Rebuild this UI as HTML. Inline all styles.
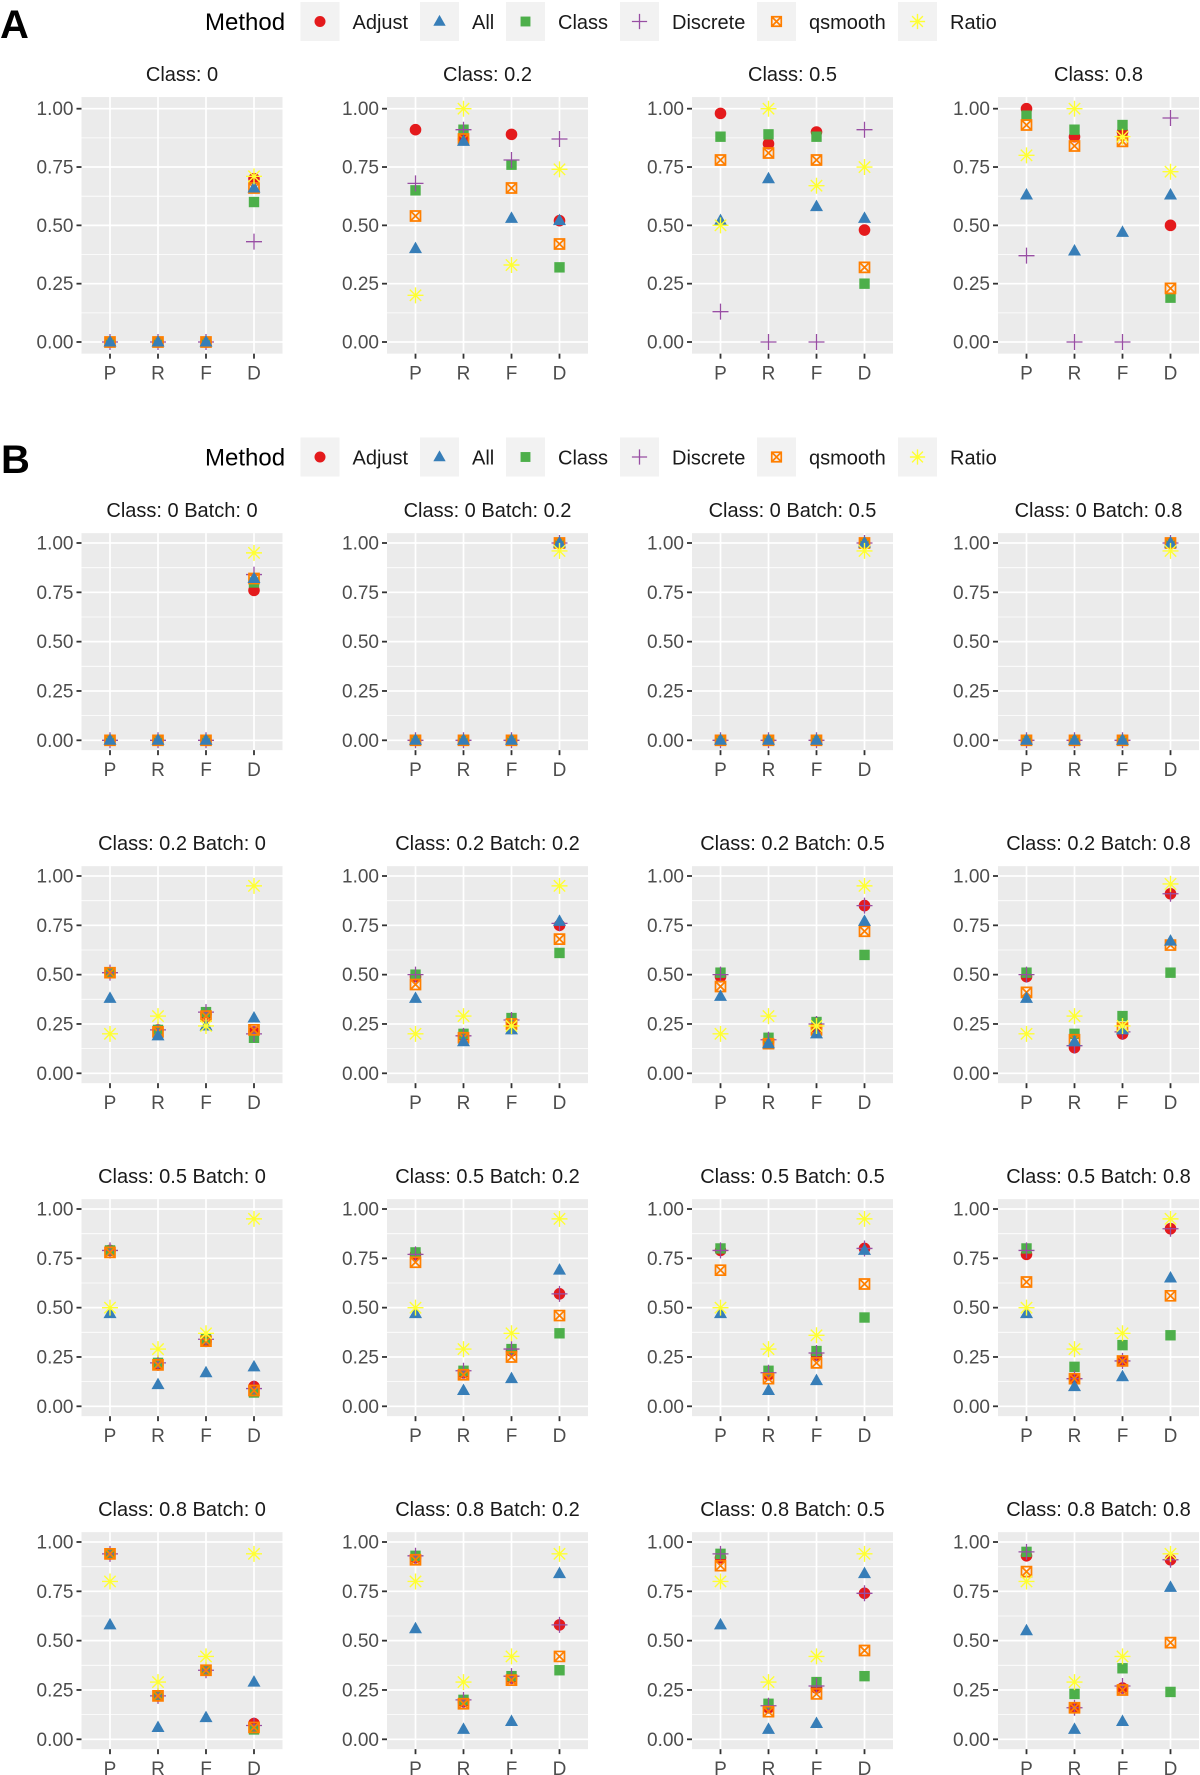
<!DOCTYPE html>
<html><head><meta charset="utf-8">
<style>
html,body{margin:0;padding:0;background:#fff;}
svg{display:block;}
text{font-family:"Liberation Sans",Arial,sans-serif;}
</style></head>
<body>
<svg id="fig" width="1200" height="1775" viewBox="0 0 1200 1775" xmlns="http://www.w3.org/2000/svg"></svg>
<script>
const methods = ["Adjust","All","Class","Discrete","qsmooth","Ratio"];
const cats = ["P","R","F","D"];
const yTicks = [0,0.25,0.5,0.75,1];
const yTickLabels = ["0.00","0.25","0.50","0.75","1.00"];
const titlesA = ["Class: 0","Class: 0.2","Class: 0.5","Class: 0.8"];
// rows: Adjust, All, Class, Discrete, qsmooth, Ratio ; cols P,R,F,D
const a1 = [[0,0,0,0.70],[0,0,0,0.66],[0,0,0,0.60],[0,0,0,0.43],[0,0,0,0.66],[null,null,null,0.71]];
const a2 = [[0.91,0.87,0.89,0.52],[0.40,0.86,0.53,0.52],[0.65,0.91,0.76,0.32],[0.68,0.91,0.78,0.87],[0.54,0.87,0.66,0.42],[0.20,1.00,0.33,0.74]];
const a3 = [[0.98,0.85,0.90,0.48],[0.52,0.70,0.58,0.53],[0.88,0.89,0.88,0.25],[0.13,0,0,0.91],[0.78,0.81,0.78,0.32],[0.50,1.00,0.67,0.75]];
const a4 = [[1.00,0.88,0.90,0.50],[0.63,0.39,0.47,0.63],[0.97,0.91,0.93,0.19],[0.37,0,0,0.96],[0.93,0.84,0.86,0.23],[0.80,1.00,0.88,0.73]];
const b00 = [[0,0,0,0.76],[0,0,0,0.82],[0,0,0,0.80],[0,0,0,0.84],[0,0,0,0.82],[null,null,null,0.95]];
const b02 = [[0,0,0,1.0],[0,0,0,1.0],[0,0,0,1.0],[0,0,0,1.0],[0,0,0,1.0],[null,null,null,0.96]];
const b05 = [[0,0,0,1.0],[0,0,0,1.0],[0,0,0,1.0],[0,0,0,1.0],[0,0,0,1.0],[null,null,null,0.96]];
const b08 = [[0,0,0,1.0],[0,0,0,1.0],[0,0,0,1.0],[0,0,0,1.0],[0,0,0,1.0],[null,null,null,0.96]];
const b20 = [[0.51,0.22,0.30,0.21],[0.38,0.19,0.24,0.28],[0.51,0.22,0.31,0.18],[0.51,0.22,0.31,0.20],[0.51,0.21,0.29,0.22],[0.20,0.29,0.24,0.95]];
const b22 = [[0.49,0.19,0.26,0.75],[0.38,0.16,0.22,0.77],[0.50,0.20,0.28,0.61],[0.50,0.19,0.27,0.76],[0.45,0.18,0.25,0.68],[0.20,0.29,0.24,0.95]];
const b25 = [[0.49,0.16,0.23,0.85],[0.39,0.15,0.20,0.77],[0.51,0.18,0.26,0.60],[0.50,0.17,0.25,0.85],[0.44,0.15,0.22,0.72],[0.20,0.29,0.24,0.95]];
const b28 = [[0.49,0.13,0.20,0.91],[0.38,0.16,0.22,0.67],[0.51,0.20,0.29,0.51],[0.50,0.14,0.21,0.91],[0.41,0.17,0.23,0.65],[0.20,0.29,0.24,0.96]];
const b50 = [[0.79,0.21,0.33,0.10],[0.47,0.11,0.17,0.20],[0.79,0.22,0.34,0.07],[0.79,0.22,0.34,0.09],[0.78,0.21,0.33,0.08],[0.50,0.29,0.37,0.95]];
const b52 = [[0.77,0.17,0.28,0.57],[0.47,0.08,0.14,0.69],[0.78,0.18,0.29,0.37],[0.77,0.18,0.29,0.57],[0.73,0.16,0.25,0.46],[0.50,0.29,0.37,0.95]];
const b55 = [[0.79,0.16,0.26,0.80],[0.47,0.08,0.13,0.79],[0.80,0.18,0.28,0.45],[0.79,0.17,0.27,0.80],[0.69,0.14,0.22,0.62],[0.50,0.29,0.36,0.95]];
const b58 = [[0.77,0.14,0.23,0.90],[0.47,0.10,0.15,0.65],[0.80,0.20,0.31,0.36],[0.79,0.14,0.23,0.90],[0.63,0.14,0.23,0.56],[0.50,0.29,0.37,0.95]];
const b80 = [[0.94,0.22,0.35,0.08],[0.58,0.06,0.11,0.29],[0.94,0.22,0.35,0.05],[0.94,0.22,0.35,0.07],[0.94,0.22,0.35,0.06],[0.80,0.29,0.42,0.94]];
const b82 = [[0.92,0.19,0.31,0.58],[0.56,0.05,0.09,0.84],[0.93,0.20,0.32,0.35],[0.93,0.20,0.32,0.58],[0.91,0.18,0.30,0.42],[0.80,0.29,0.42,0.94]];
const b85 = [[0.92,0.16,0.26,0.74],[0.58,0.05,0.08,0.84],[0.94,0.18,0.29,0.32],[0.94,0.17,0.27,0.74],[0.88,0.14,0.23,0.45],[0.80,0.29,0.42,0.94]];
const b88 = [[0.93,0.16,0.26,0.91],[0.55,0.05,0.09,0.77],[0.95,0.23,0.36,0.24],[0.95,0.16,0.27,0.91],[0.85,0.16,0.25,0.49],[0.80,0.29,0.42,0.94]];
const classLevels = ["0","0.2","0.5","0.8"];
const batchLevels = ["0","0.2","0.5","0.8"];
const drawOrder = [0,2,3,4,1,5];

const NS="http://www.w3.org/2000/svg";
const svg=document.getElementById('fig');
function mk(tag,attrs,parent){const e=document.createElementNS(NS,tag);for(const k in attrs)e.setAttribute(k,attrs[k]);(parent||svg).appendChild(e);return e;}
const colors=["#e41a1c","#377eb8","#4daf4a","#984ea3","#ff7f00","#ffff33"];
const panelX=[81.5,387,692,998];
const PW=201;

function marker(m,cx,cy,g,s){
  s=s||1;
  let e;
  if(m===0){e=mk('circle',{cx:cx,cy:cy,r:5.8*s,fill:colors[0]},g);}
  else if(m===1){e=mk('polygon',{points:`${cx},${cy-7*s} ${cx+6.5*s},${cy+4.5*s} ${cx-6.5*s},${cy+4.5*s}`,fill:colors[1]},g);}
  else if(m===2){e=mk('rect',{x:cx-5.2*s,y:cy-5.2*s,width:10.4*s,height:10.4*s,fill:colors[2]},g);}
  else if(m===3){e=mk('path',{d:`M${cx-8*s},${cy}H${cx+8*s}M${cx},${cy-8*s}V${cy+8*s}`,stroke:colors[3],'stroke-width':1.3,fill:'none'},g);}
  else if(m===4){const r=5*s;e=mk('path',{d:`M${cx-r},${cy-r}h${2*r}v${2*r}h${-2*r}zM${cx-r},${cy-r}L${cx+r},${cy+r}M${cx+r},${cy-r}L${cx-r},${cy+r}`,stroke:colors[4],'stroke-width':1.7,fill:'none'},g);}
  else {const r=8*s,d=5.7*s;e=mk('path',{d:`M${cx-r},${cy}H${cx+r}M${cx},${cy-r}V${cy+r}M${cx-d},${cy-d}L${cx+d},${cy+d}M${cx+d},${cy-d}L${cx-d},${cy+d}`,stroke:colors[5],'stroke-width':1.4,fill:'none'},g);}
  return e;
}

function panel(px,y1,y0,title,data,name){
  const g=mk('g',{});
  
  
  const unit=y0-y1;
  const ys=v=>y0-v*unit;
  const xs=i=>px+28.5+i*48;
  const top=ys(1.05),bot=ys(-0.05);
  const bg=mk('rect',{x:px,y:top,width:PW,height:bot-top,fill:'#ebebeb'},g);
  
  
  for(let i=0;i<4;i++){const v=0.125+i*0.25;mk('line',{x1:px,x2:px+PW,y1:ys(v),y2:ys(v),stroke:'#fff','stroke-width':0.8},g);}
  yTicks.forEach((v,i)=>{
    mk('line',{x1:px,x2:px+PW,y1:ys(v),y2:ys(v),stroke:'#fff','stroke-width':1.7},g);
    mk('line',{x1:px-5,x2:px,y1:ys(v),y2:ys(v),stroke:'#333','stroke-width':1.8},g);
    const t=mk('text',{x:px-8,y:ys(v)+6.5,'text-anchor':'end','font-size':19,fill:'#4d4d4d'},g);
    t.textContent=yTickLabels[i];
    
    
  });
  cats.forEach((c,i)=>{
    mk('line',{x1:xs(i),x2:xs(i),y1:top,y2:bot,stroke:'#fff','stroke-width':1.7},g);
    mk('line',{x1:xs(i),x2:xs(i),y1:bot,y2:bot+5,stroke:'#333','stroke-width':1.8},g);
    const t=mk('text',{x:xs(i),y:bot+26,'text-anchor':'middle','font-size':19,fill:'#4d4d4d'},g);
    t.textContent=c;
    
    
  });
  const tt=mk('text',{x:px+PW/2,y:top-16,'text-anchor':'middle','font-size':20,fill:'#1a1a1a'},g);
  tt.textContent=title;
  
  
  drawOrder.forEach(m=>{
    data[m].forEach((v,i)=>{
      if(v===null) return;
      const e=marker(m,xs(i),ys(v),g);
      
      
    });
  });
}

function legend(cy,name){
  const g=mk('g',{});
  
  
  const lt=mk('text',{x:205,y:cy+8.5,'font-size':24,fill:'#000'},g);
  lt.textContent='Method';
  
  
  const kx=[300.5,420,506,620,757,898];
  methods.forEach((m,i)=>{
    const k=mk('rect',{x:kx[i],y:cy-19.5,width:39,height:39,fill:'#f2f2f2'},g);
    
    
    marker(i,kx[i]+19.5,cy,g,0.95);
    const t=mk('text',{x:kx[i]+52,y:cy+7.5,'font-size':20,fill:'#1a1a1a'},g);
    t.textContent=m;
    
    
  });
}

const la=mk('text',{x:0,y:38,'font-size':40,'font-weight':'bold',fill:'#000'});
la.textContent='A';


const lb=mk('text',{x:1,y:473,'font-size':40,'font-weight':'bold',fill:'#000'});
lb.textContent='B';


legend(21.5,'legend-a');
legend(457,'legend-b');

const aData=[a1,a2,a3,a4];
aData.forEach((d,i)=>panel(panelX[i],108.7,342,titlesA[i],d,'panel-a-class-'+classLevels[i]));

const bData=[[b00,b02,b05,b08],[b20,b22,b25,b28],[b50,b52,b55,b58],[b80,b82,b85,b88]];
bData.forEach((row,r)=>{
  const y0=740.3+r*333, y1=y0-197.3;
  row.forEach((d,c)=>panel(panelX[c],y1,y0,'Class: '+classLevels[r]+' Batch: '+batchLevels[c],d,'panel-b-class-'+classLevels[r]+'-batch-'+batchLevels[c]));
});
</script>
</body></html>
